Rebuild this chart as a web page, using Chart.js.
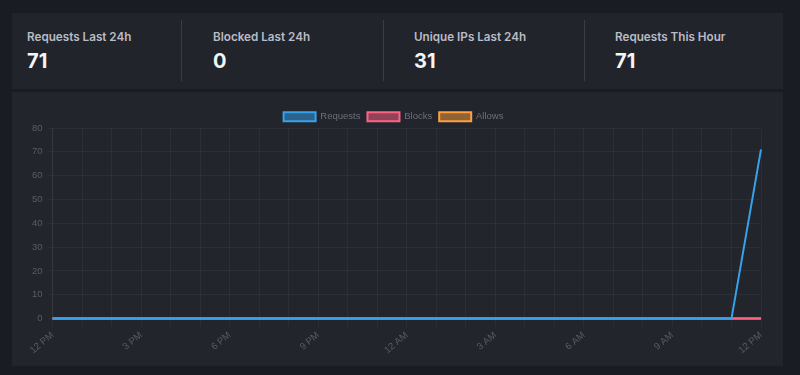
<!DOCTYPE html>
<html>
<head>
<meta charset="utf-8">
<script src="https://cdn.jsdelivr.net/npm/chart.js@4"></script>
<style>
    html, body { margin: 0; padding: 0; }
    body {
        width: 800px;
        height: 375px;
        background: #1a1c23;
        font-family: Inter, "Noto Sans", sans-serif;
        position: relative;
        overflow: hidden;
    }
    .stats {
        position: absolute;
        left: 12px; top: 13px;
        width: 771px; height: 76px;
        background: #22242b;
    }
    .stat {
        position: absolute;
        top: 0; height: 76px;
    }
    .stat .label {
        position: absolute;
        top: 17px;
        font-size: 11.7px;
        font-weight: 600;
        color: #b9bcc6;
        white-space: nowrap;
    }
    .stat .value {
        position: absolute;
        top: 36px;
        font-size: 20px;
        font-weight: 700;
        color: #f4f5f7;
    }
    .divider {
        position: absolute;
        top: 7px; width: 1px; height: 61px;
        background: #3a3d46;
    }
    .chart-panel {
        position: absolute;
        left: 12px; top: 92px;
        width: 771px; height: 274px;
        background: #23252d;
    }
</style>
</head>
<body>
<div class="stats">
    <div class="stat" style="left:15px"><div class="label">Requests Last 24h</div><div class="value" id="stat-requests"></div></div>
    <div class="divider" style="left:169px"></div>
    <div class="stat" style="left:201px"><div class="label">Blocked Last 24h</div><div class="value" id="stat-blocked"></div></div>
    <div class="divider" style="left:371px"></div>
    <div class="stat" style="left:402px"><div class="label">Unique IPs Last 24h</div><div class="value" id="stat-ips"></div></div>
    <div class="divider" style="left:572px"></div>
    <div class="stat" style="left:603px"><div class="label">Requests This Hour</div><div class="value" id="stat-hour"></div></div>
</div>
<div class="chart-panel">
    <canvas id="traffic-line"></canvas>
</div>
<script>
// Summary numbers
const stat_values = [71, 0, 31, 71];

// Hourly buckets, 12 PM yesterday -> 12 PM today
const hours = [
    "12 PM", "1 PM", "2 PM", "3 PM", "4 PM", "5 PM", "6 PM", "7 PM", "8 PM",
    "9 PM", "10 PM", "11 PM", "12 AM", "1 AM", "2 AM", "3 AM", "4 AM", "5 AM",
    "6 AM", "7 AM", "8 AM", "9 AM", "10 AM", "11 AM", "12 PM"
];
const requests = [0, 0, 0, 0, 0, 0, 0, 0, 0, 0, 0, 0, 0, 0, 0, 0, 0, 0, 0, 0, 0, 0, 0, 0, 71];
const blocks   = [0, 0, 0, 0, 0, 0, 0, 0, 0, 0, 0, 0, 0, 0, 0, 0, 0, 0, 0, 0, 0, 0, 0, 0, 0];
const allows   = [0, 0, 0, 0, 0, 0, 0, 0, 0, 0, 0, 0, 0, 0, 0, 0, 0, 0, 0, 0, 0, 0, 0, 0, 0];

document.getElementById("stat-requests").textContent = stat_values[0];
document.getElementById("stat-blocked").textContent = stat_values[1];
document.getElementById("stat-ips").textContent = stat_values[2];
document.getElementById("stat-hour").textContent = stat_values[3];

const tick_colour = "#585c66";
const grid_colour = "rgba(255,255,255,0.045)";

// lower order is drawn on top, so requests sits over blocks and allows
function series(label, data, colour, fill, order) {
    return {
        label: label,
        data: data,
        borderColor: colour,
        backgroundColor: fill,
        borderWidth: 2,
        pointRadius: 0,
        tension: 0,
        fill: false,
        order: order,
        clip: 4
    };
}

const canvas = document.getElementById("traffic-line");
const chart = new Chart(canvas.getContext("2d"), {
    type: "line",
    data: {
        labels: hours,
        datasets: [
            series("Requests", requests, "#36a2eb", "rgba(54,162,235,0.5)", 1),
            series("Blocks", blocks, "#ff6384", "rgba(255,99,132,0.5)", 2),
            series("Allows", allows, "#ff9f40", "rgba(255,159,64,0.5)", 3)
        ]
    },
    options: {
        responsive: true,
        maintainAspectRatio: false,
        animation: false,
        layout: {
            padding: { left: 14, right: 22, top: 13, bottom: 7 }
        },
        plugins: {
            legend: {
                maxHeight: 23,
                labels: {
                    color: "#6b6f79",
                    boxWidth: 32,
                    boxHeight: 9,
                    padding: 7,
                    font: { family: "Liberation Sans", size: 9.5 },
                    sort: (a, b) => a.datasetIndex - b.datasetIndex
                }
            },
            tooltip: { enabled: false }
        },
        scales: {
            x: {
                grid: { color: grid_colour },
                border: { color: grid_colour },
                ticks: {
                    color: tick_colour,
                    autoSkip: false,
                    maxRotation: 40,
                    minRotation: 40,
                    font: { family: "Liberation Sans", size: 9.5 },
                    callback: function (value, index) {
                        return index % 3 === 0 ? this.getLabelForValue(value) : "";
                    }
                }
            },
            y: {
                min: 0,
                max: 80,
                grid: { color: grid_colour, tickLength: 4 },
                border: { color: grid_colour },
                ticks: {
                    stepSize: 10,
                    color: tick_colour,
                    padding: 6,
                    font: { family: "Liberation Sans", size: 9.5 }
                }
            }
        }
    }
});
</script>
</body>
</html>
